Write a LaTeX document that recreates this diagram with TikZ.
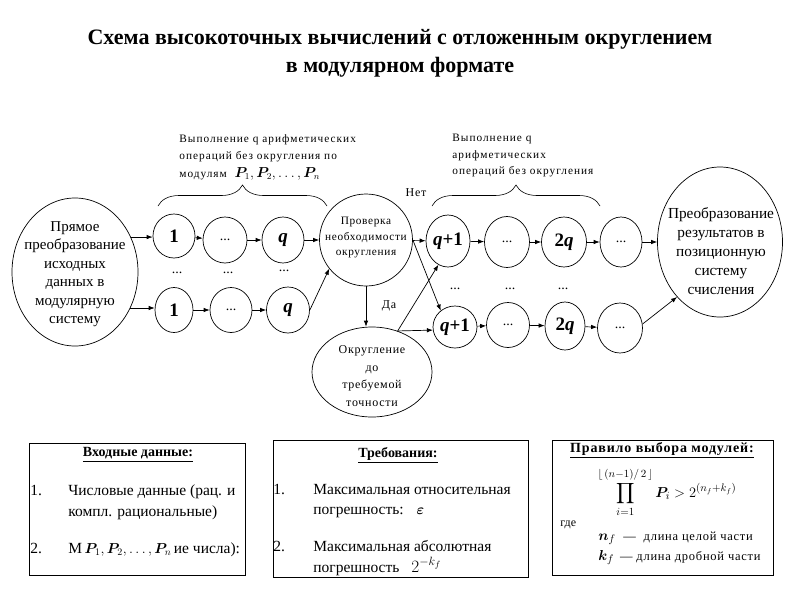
\documentclass[tikz,border=0pt]{standalone}
\usepackage{fontspec}
\setmainfont{Liberation Serif}
\newfontfamily\lsf[LetterSpace=6]{Liberation Serif}
\newfontfamily\lsfw[LetterSpace=9]{Liberation Serif}
\usepackage{amsmath,bm}
\usetikzlibrary{shapes.geometric,arrows.meta,decorations.pathreplacing}
\newcommand\fsz[2]{\fontsize{#1pt}{#2pt}\selectfont}
\begin{document}
\begin{tikzpicture}[x=1pt,y=-1pt,line width=0.7pt,
  ov/.style 2 args={draw,ellipse,inner sep=0pt,minimum width=#1pt,minimum height=#2pt},
  num/.style={font=\fsz{19}{22}\bfseries},
  dts/.style={font=\fsz{14}{16}},
  arr/.style={-{Latex[length=6pt,width=4.5pt]}},
  brc/.style={decorate,decoration={brace,amplitude=21pt,aspect=0.5}},
  txt/.style={inner sep=0pt,anchor=base west,font=\fsz{15.5}{18}},
  box/.style={draw,inner sep=0pt,line width=0.8pt},
  btitle/.style={inner sep=0pt,font=\fsz{14}{16}\bfseries}]
\useasboundingbox (0,0) rectangle (800,600);

% title
\node[font=\fsz{22}{28}\bfseries,align=center] (title) at (400,53)
  {Схема высокоточных вычислений с отложенным округлением\\в модулярном формате};

% left ellipse
\node[ov={126}{148}] (L) at (75,272) {};
\node[align=center,font=\fsz{15}{18.5}] (Lt) at (75,274)
  {Прямое\\преобразование\\исходных\\данных в\\модулярную\\систему};

% first rows
\node[ov={42}{44},num] (T1) at (174,236) {1};
\node[ov={44}{46},dts] (T2) at (225,240) {...};
\node[ov={42}{46},num] (T3) at (283,240) {\textit{q}};
\node[ov={38}{45},num] (B1) at (174,310) {1};
\node[ov={42}{45},dts] (B2) at (231,310) {...};
\node[ov={43}{46},num] (B3) at (288,310) {\textit{q}};
\node[dts] (m1) at (177,273) {...};
\node[dts] (m2) at (228,273) {...};
\node[dts] (m3) at (284,271) {...};

% check
\node[ov={93}{92}] (C) at (366,240) {};
\node[align=center,font=\lsf\fsz{11.3}{15.5}] (Ct) at (366,238)
  {Проверка\\необходимости\\округления};

% rounding
\node[ov={120}{90}] (R) at (372,372) {};
\node[align=center,font=\lsf\fsz{12}{17.5}] (Rt) at (372,376)
  {Округление\\до\\требуемой\\точности};

% right rows
\node[ov={44}{52},num] (U1) at (448,241) {\textit{q}+1};
\node[ov={45}{51},dts] (U2) at (507,242) {...};
\node[ov={45}{50},num] (U3) at (564,242) {2\textit{q}};
\node[ov={42}{50},dts] (U4) at (621,242) {...};
\node[ov={44}{42},num] (D1) at (455,327) {\textit{q}+1};
\node[ov={43}{45},dts] (D2) at (508,325) {...};
\node[ov={40}{48},num] (D3) at (565,326) {2\textit{q}};
\node[ov={45}{50},dts] (D4) at (620,328) {...};
\node[dts] (m4) at (455,289) {...};
\node[dts] (m5) at (510,289) {...};
\node[dts] (m6) at (563,289) {...};

% right ellipse
\node[ov={125}{150}] (E) at (720,242) {};
\node[align=center,font=\fsz{15.3}{18.8}] (Et) at (721,251)
  {Преобразование\\результатов в\\позиционную\\систему\\счисления};

% labels
\node[font=\lsf\fsz{12}{14}] (net) at (416,193) {Нет};
\node[font=\lsf\fsz{12}{14}] (da) at (389,306) {Да};

% braces
\coordinate (b1a) at (158,206); \coordinate (b1b) at (327,206);
\coordinate (b2a) at (432,206); \coordinate (b2b) at (600,206);
\draw[brc,line width=0.6pt] (b1a) -- (b1b);
\draw[brc,line width=0.6pt] (b2a) -- (b2b);
\node[anchor=north west,align=left,inner sep=0pt,font=\lsfw\fsz{11.3}{17.5}] (lab1) at (179,134)
  {Выполнение q арифметических\\операций без округления по\\модулям \ {\fsz{13.5}{13}$\bm{P}_1, \bm{P}_2, \ldots, \bm{P}_n$}};
\node[anchor=north west,align=left,inner sep=0pt,font=\lsfw\fsz{11.3}{16.5}] (lab2) at (452,134)
  {Выполнение q\\арифметических\\операций без округления};

% arrows
\draw[arr] (L.32) -- (L.32 -| T1.west);
\draw[arr] (L.-33) -- (L.-33 -| B1.west);
\draw[arr] (T1) -- (T2);
\draw[arr] (T2) -- (T3);
\draw[arr] (T3) -- (C);
\draw[arr] (B1) -- (B2);
\draw[arr] (B2) -- (B3);
\draw[arr] (B3.east) -- (C.218);
\draw[arr] (C) -- (U1);
\draw[arr] (C.east) -- (D1.131);
\draw[arr] (C.south) -- (C.south |- R.north);
\draw[arr] (R.58) -- (U1.248);
\draw[arr] (R.58) -- (D1.188);
\draw[arr] (U1) -- (U2);
\draw[arr] (U2) -- (U3);
\draw[arr] (U3) -- (U4);
\draw[arr] (U4) -- (E);
\draw[arr] (D1) -- (D2);
\draw[arr] (D2) -- (D3);
\draw[arr] (D3) -- (D4);
\draw[arr] (D4.10) -- (E.232);

% box 1
\node[box,minimum width=216pt,minimum height=132pt] (box1) at (137,509) {};
\node[btitle] (b1t) at (138,455) {\underline{Входные данные:}};
\node[txt] (b1n1) at (30,495) {1.};
\node[txt] (b1l1) at (68,495) {Числовые данные (рац. и};
\node[txt] (b1l2) at (68,516) {компл. рациональные)};
\node[txt] (b1n2) at (30,553) {2.};
\node[txt] (b1l3) at (68,553) {М\,{\fsz{14.5}{16}$\bm{P}_1, \bm{P}_2, \ldots, \bm{P}_n$}\,ие числа):};

% box 2
\node[box,minimum width=255pt,minimum height=137pt] (box2) at (400.5,508.5) {};
\node[btitle] (b2t) at (398,455) {\underline{Требования:}};
\node[txt] (b2n1) at (273,494) {1.};
\node[txt] (b2l1) at (313,494) {Максимальная относительная};
\node[txt] (b2l2) at (313,514) {погрешность: \ \ $\bm{\varepsilon}$};
\node[txt] (b2n2) at (273,551) {2.};
\node[txt] (b2l3) at (313,551) {Максимальная абсолютная};
\node[txt] (b2l4) at (313,572) {погрешность\hspace{12pt}{\fsz{18}{18}$2^{-k_f}$}};

% box 3
\node[box,minimum width=221pt,minimum height=135pt] (box3) at (662.5,507.5) {};
\node[btitle,font=\lsf\fsz{14}{16}\bfseries] (b3t) at (662,450) {\underline{Правило выбора модулей:}};
\node[inner sep=0pt,font=\fsz{15}{16}] (b3f) at (667,492)
  {$\displaystyle\prod_{i=1}^{\raisebox{2.5pt}{$\scriptstyle\lfloor\,(n-1)/\,2\,\rfloor$}} \bm{P}_i > 2^{(n_f+k_f)}$};
\node[txt,font=\fsz{12}{14}] (b3g) at (560,526) {где};
\node[txt,font=\lsf\fsz{12.5}{14}] (b3l1) at (598,540) {{\fsz{15}{15}$\bm{n}_f$} \ — \ длина целой части};
\node[txt,font=\lsf\fsz{12.5}{14}] (b3l2) at (598,560) {{\fsz{15}{15}$\bm{k}_f$} \,— длина дробной части};
\end{tikzpicture}
\end{document}
